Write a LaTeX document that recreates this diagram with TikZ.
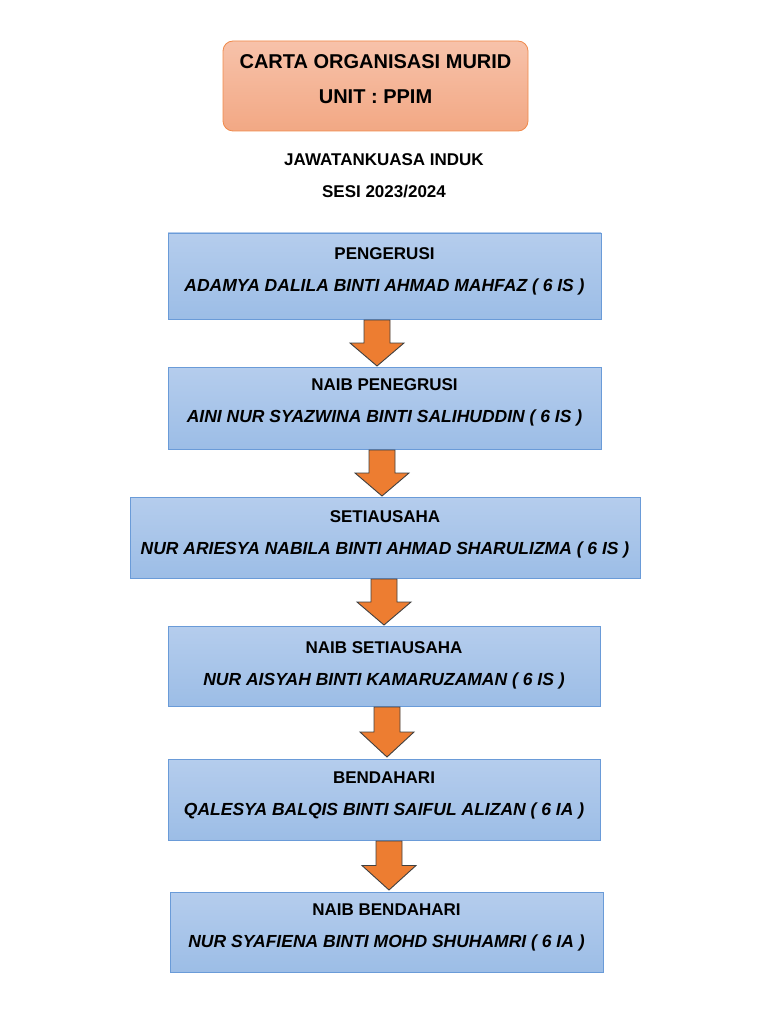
\documentclass[tikz,border=0pt]{standalone}
\usepackage{fontspec}
\setmainfont{Liberation Sans}
\definecolor{bxt}{HTML}{B5CDED}
\definecolor{bxb}{HTML}{9CBDE6}
\definecolor{bxd}{HTML}{6A9BD8}
\definecolor{ttt}{HTML}{F7C2AA}
\definecolor{ttb}{HTML}{F2A884}
\definecolor{tto}{HTML}{F08A4B}
\definecolor{arf}{HTML}{ED7D31}
\begin{document}
\begin{tikzpicture}[x=1pt,y=-1pt,
 box/.style={draw=bxd, line width=0.8pt, top color=bxt, bottom color=bxb},
 lab/.style={font=\fontsize{17}{20}\selectfont\bfseries},
 nm/.style={font=\fontsize{17.5}{20}\selectfont\bfseries\itshape},
 arr/.style={fill=arf, draw=black!75, line width=0.9pt, line join=miter}]
\useasboundingbox (0,0) rectangle (768,1024);
\newcommand\blockarr[3]{% center x, top, bottom
 \pgfmathsetmacro\hy{#2+0.5*(#3-#2)}
 \draw[arr] (#1-13,#2) -- (#1+13,#2) -- (#1+13,\hy) -- (#1+27,\hy) -- (#1,#3) -- (#1-27,\hy) -- (#1-13,\hy) -- cycle;}
\node[draw=tto, line width=0.8pt, rounded corners=10pt, top color=ttt, bottom color=ttb, minimum width=305, minimum height=90] (title) at (375.5,86) {};
\node[font=\fontsize{20}{24}\selectfont\bfseries] (t1) at (375.5,62) {CARTA ORGANISASI MURID};
\node[font=\fontsize{20}{24}\selectfont\bfseries] (t2) at (375.5,97) {UNIT : PPIM};
\node[lab] (j1) at (384,160) {JAWATANKUASA INDUK};
\node[lab] (j2) at (384,192) {SESI 2023/2024};
\newcommand\pbox[8]{%
 \path[box] (#2,#4) rectangle (#3,#5);
 \node[lab] (#1a) at ({(#2+#3)/2},#6) {#7};
 \node[nm] (#1b) at ({(#2+#3)/2},#6+33) {#8};}
\pbox{b1}{168}{601}{233}{319}{254}{PENGERUSI}{ADAMYA DALILA BINTI AHMAD MAHFAZ ( 6 IS )}
\pbox{b2}{168}{601}{367}{449}{385}{NAIB PENEGRUSI}{AINI NUR SYAZWINA BINTI SALIHUDDIN ( 6 IS )}
\pbox{b3}{130}{640}{497}{578}{517}{SETIAUSAHA}{NUR ARIESYA NABILA BINTI AHMAD SHARULIZMA ( 6 IS )}
\pbox{b4}{168}{600}{626}{706}{648}{NAIB SETIAUSAHA}{NUR AISYAH BINTI KAMARUZAMAN ( 6 IS )}
\pbox{b5}{168}{600}{759}{840}{778}{BENDAHARI}{QALESYA BALQIS BINTI SAIFUL ALIZAN ( 6 IA )}
\pbox{b6}{170}{603}{892}{972}{910}{NAIB BENDAHARI}{NUR SYAFIENA BINTI MOHD SHUHAMRI ( 6 IA )}
\blockarr{377}{320}{366}
\blockarr{382}{450}{496}
\blockarr{384}{579}{625}
\blockarr{387}{707}{757}
\blockarr{389}{841}{890}
\end{tikzpicture}
\end{document}
